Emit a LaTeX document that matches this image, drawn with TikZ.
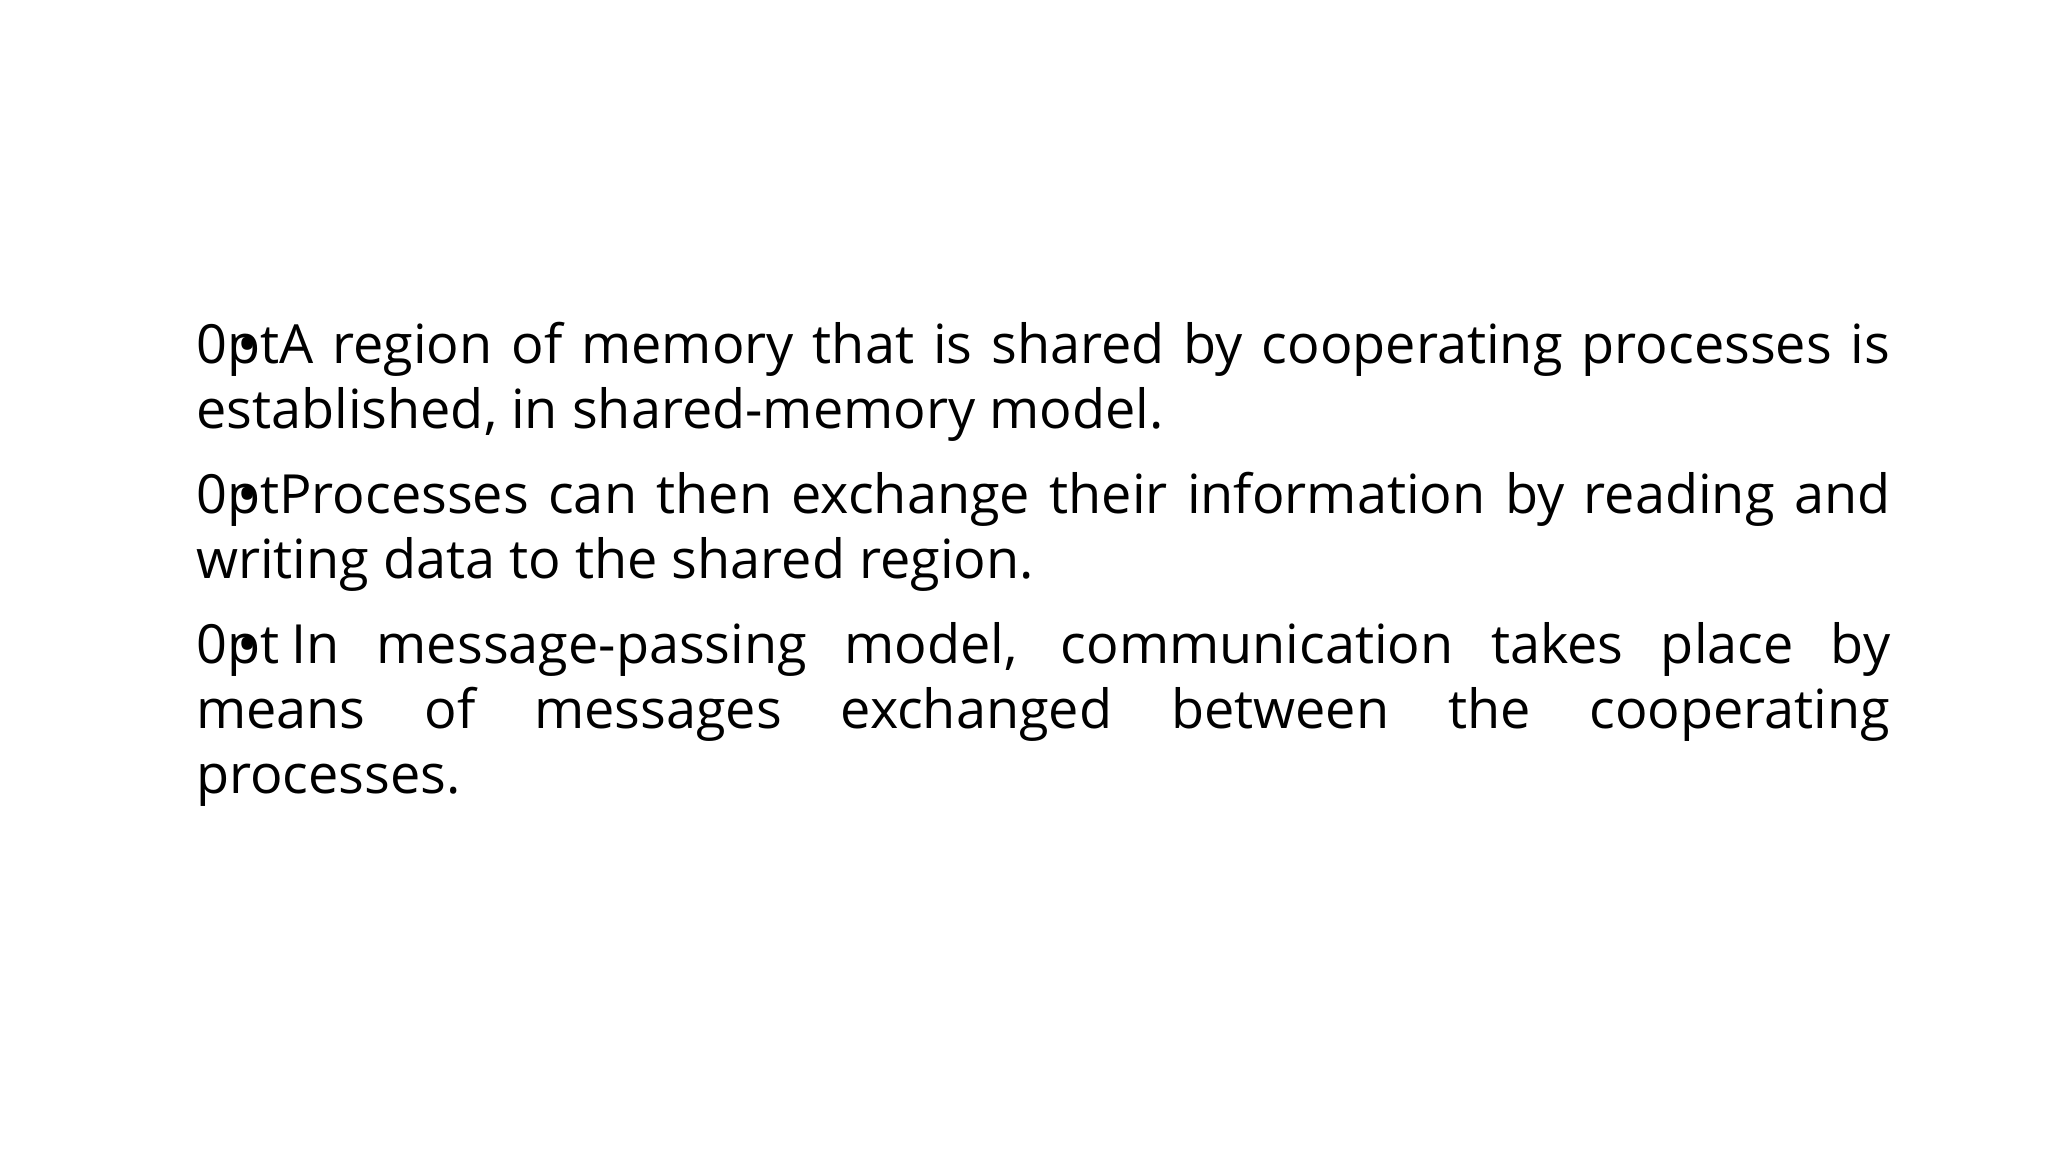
\documentclass[tikz,border=0pt]{standalone}
\usepackage{fontspec}
\setmainfont{Open Sans}
\newcommand{\mybul}{\hspace*{-42pt}\makebox[42pt][l]{•}}
\begin{document}
\begin{tikzpicture}[x=1pt,y=1pt,
  para/.style={anchor=north west,inner sep=0pt,text width=1694pt,align=justify,font=\fontsize{54}{65}\selectfont\hyphenpenalty=10000\relax}]
\useasboundingbox[fill=white] (0,0) rectangle (2048,1152);
\node[para] (p1) at (196,830) {\mybul A region of memory that is shared by cooperating processes is\linebreak established, in shared-memory model.};
\node[para] (p2) at (196,680) {\mybul Processes can then exchange their information by reading and\linebreak writing data to the shared region.};
\node[para] (p3) at (196,530) {\mybul\hspace{12pt}In message-passing model, communication takes place by\linebreak means of messages exchanged between the cooperating\linebreak processes.};
\end{tikzpicture}
\end{document}
